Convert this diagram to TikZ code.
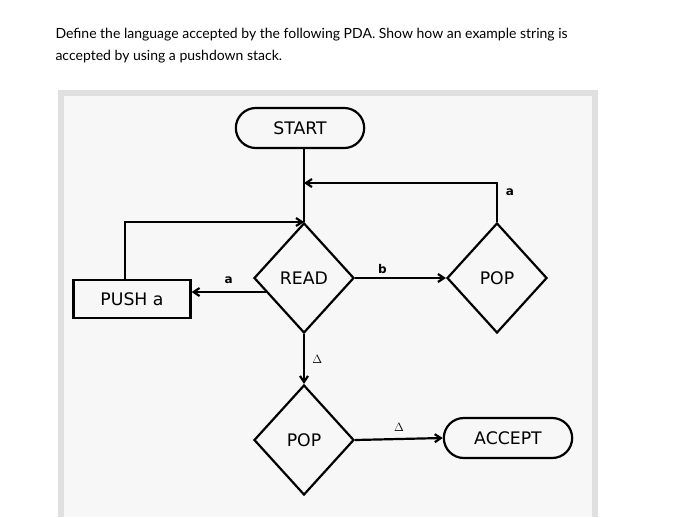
\documentclass[tikz,border=0pt]{standalone}
\usepackage{fontspec}
\setmainfont{Lato}
\newfontfamily\diagfont{DejaVu Sans}
\usetikzlibrary{shapes.geometric,shapes.misc,arrows.meta,calc}
\begin{document}
\begin{tikzpicture}[x=1pt,y=-1pt,
  ln/.style={line width=2.2pt,black},
  arr/.style={ln,-{Straight Barb[length=6pt,width=8pt]}},
  dia/.style={diamond,draw,line width=2.2pt,aspect=0.9,minimum width=100pt,minimum height=110pt,inner sep=0pt,font=\diagfont\LARGE},
  stad/.style={rounded rectangle,draw,line width=2.2pt,minimum width=135pt,minimum height=40pt,font=\diagfont\LARGE},
  lbl/.style={font=\diagfont\bfseries\large}]
\useasboundingbox (0,0) rectangle (700,517);
\fill[white] (0,0) rectangle (700,517);
\fill[black!12] (58,90) rectangle (598,517);
\fill[black!3] (64,96) rectangle (592,517);
\node[anchor=west,font=\fontsize{14pt}{17pt}\selectfont] (t1) at (52,35) {Define the language accepted by the following PDA. Show how an example string is};
\node[anchor=west,font=\fontsize{14pt}{17pt}\selectfont] (t2) at (52,57) {accepted by using a pushdown stack.};
\node[stad] (start) at (300,128) {START};
\node[dia] (read) at (304,278) {READ};
\node[dia] (pop1) at (497,278) {POP};
\node[dia] (pop2) at (304,440) {POP};
\node[stad] (acc) at (508,438) {ACCEPT};
\node[draw,line width=2.2pt,minimum width=117pt,minimum height=38pt,font=\diagfont\LARGE] (push) at (132,299) {PUSH a};
\coordinate (j1) at (304,183);
\coordinate (j2) at (304,222);
\coordinate (rw) at ($(read.west)!0.25!(read.south)$);
\draw[ln] (start.south -| read.north) -- (read.north);
\draw[arr] (pop1.north) |- (j1);
\draw[arr] (push.north -| 125,0) |- (j2);
\draw[arr] (rw) -- (push.east |- rw) node[lbl,midway,above=4pt] {a};
\draw[arr] (read.east) -- (pop1.west) node[lbl,pos=0.3,above] {b};
\draw[arr] (read.south) -- (pop2.north) node[lbl,midway,right=4pt] {$\Delta$};
\draw[arr] (pop2.east) -- (acc.west) node[lbl,midway,above=3pt] {$\Delta$};
\node[lbl] (la) at (510,192) {a};
\end{tikzpicture}
\end{document}
